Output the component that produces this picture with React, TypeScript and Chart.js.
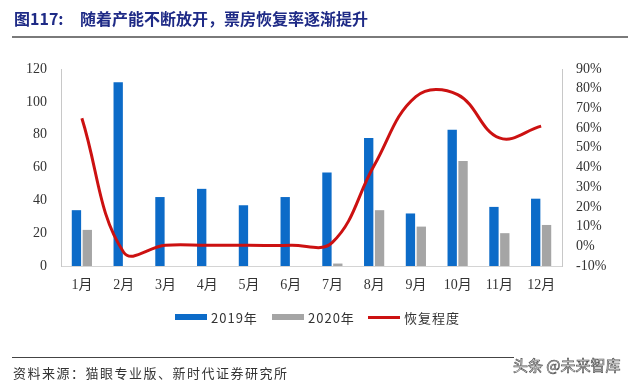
import React, { useEffect, useRef } from "react";
import { Chart, registerables } from "chart.js";

Chart.register(...registerables);

const months = ["1月", "2月", "3月", "4月", "5月", "6月", "7月", "8月", "9月", "10月", "11月", "12月"];
const boxOffice2019 = [34, 112, 42, 47, 37, 42, 57, 78, 32, 83, 36, 41];
const boxOffice2020 = [22, 0, 0, 0, 0, 0, 1.5, 34, 24, 64, 20, 25];
const recoveryPct = [65, -3, 0.5, 0.5, 0.5, 0.5, 2, 41, 76, 77, 55, 61];

const leftTicks = { min: 0, max: 120, step: 20 };
const rightTicks = { min: -10, max: 90, step: 10 };

const BLUE = "#0c6bc8";
const GRAY = "#a5a5a5";
const RED = "#cc1111";
const SERIF = "'Times New Roman','Liberation Serif','Noto Sans CJK SC',serif";

export default function App() {
  const ref = useRef<HTMLCanvasElement | null>(null);

  useEffect(() => {
    if (!ref.current) return;
    const chart = new Chart(ref.current, {
      type: "bar",
      data: {
        labels: months,
        datasets: [
          {
            type: "line",
            label: "恢复程度",
            data: recoveryPct,
            borderColor: RED,
            backgroundColor: RED,
            borderWidth: 3,
            tension: 0.4,
            pointRadius: 0,
            yAxisID: "y1",
            order: 0,
          } as any,
          {
            label: "2019年",
            data: boxOffice2019,
            backgroundColor: BLUE,
            yAxisID: "y",
            order: 1,
            categoryPercentage: 0.52,
            barPercentage: 0.86,
          },
          {
            label: "2020年",
            data: boxOffice2020,
            backgroundColor: GRAY,
            yAxisID: "y",
            order: 2,
            categoryPercentage: 0.52,
            barPercentage: 0.86,
          },
        ],
      },
      options: {
        animation: false,
        responsive: false,
        layout: { padding: { top: 69, left: 0, right: 0, bottom: 0 } },
        plugins: { legend: { display: false }, tooltip: { enabled: false } },
        scales: {
          x: {
            grid: { display: false, drawTicks: false },
            border: { display: true, color: "#d4d4d4", width: 1 },
            ticks: { font: { family: SERIF, size: 14 }, color: "#333", padding: 11, autoSkip: false, maxRotation: 0 },
            afterFit: (s: any) => { s.height = 119; },
          },
          y: {
            position: "left",
            min: leftTicks.min,
            max: leftTicks.max,
            grid: { display: false, drawTicks: false },
            border: { display: true, color: "#c8c8c8", width: 1 },
            ticks: { stepSize: leftTicks.step, autoSkip: false, font: { family: SERIF, size: 14 }, color: "#333", padding: 14 },
            afterFit: (s: any) => { s.width = 61; },
          },
          y1: {
            position: "right",
            min: rightTicks.min,
            max: rightTicks.max,
            grid: { display: false, drawTicks: false },
            border: { display: true, color: "#c8c8c8", width: 1 },
            ticks: {
              stepSize: rightTicks.step,
              autoSkip: false,
              font: { family: SERIF, size: 14 },
              color: "#333",
              padding: 14,
              callback: (v: any) => `${Math.round(Number(v))}%`,
            },
            afterFit: (s: any) => { s.width = 78; },
          },
        },
      },
    });
    return () => chart.destroy();
  }, []);

  const legendItem = (swatch: React.ReactNode, text: string, left: number) => (
    <div style={{ position: "absolute", left, top: 308, height: 18, display: "flex", alignItems: "center" }}>
      {swatch}
      <span style={{ marginLeft: 4, fontSize: 13, letterSpacing: 1, color: "#333", fontFamily: "'Noto Sans CJK SC',sans-serif" }}>{text}</span>
    </div>
  );

  return (
    <div style={{ position: "absolute", left: 0, top: 0, width: 640, height: 385, background: "#fff", overflow: "hidden" }}>
      <canvas ref={ref} width={640} height={385} style={{ position: "absolute", left: 0, top: 0, width: 640, height: 385 }} />
      <div style={{ position: "absolute", left: 14, top: 6, fontFamily: "'Noto Sans CJK SC',sans-serif", fontWeight: 700, fontSize: 16, color: "#1e2a86", whiteSpace: "nowrap" }}>
        <span>图117:</span>
        <span style={{ position: "absolute", left: 66, top: 0 }}>随着产能不断放开，票房恢复率逐渐提升</span>
      </div>
      <div style={{ position: "absolute", left: 12, top: 36, width: 616, height: 2, background: "#7a7a7a" }} />
      {legendItem(<div style={{ width: 32, height: 6, background: BLUE }} />, "2019年", 175)}
      {legendItem(<div style={{ width: 32, height: 6, background: GRAY }} />, "2020年", 272)}
      {legendItem(<div style={{ width: 32, height: 3, background: RED }} />, "恢复程度", 368)}
      <div style={{ position: "absolute", left: 12, top: 357, width: 502, height: 1, background: "#444" }} />
      <div style={{ position: "absolute", left: 13, top: 363, fontSize: 13, letterSpacing: 1.5, color: "#333", fontFamily: "'Noto Sans CJK SC',sans-serif", whiteSpace: "nowrap" }}>
        资料来源：猫眼专业版、新时代证券研究所
      </div>
      <div style={{ position: "absolute", left: 513, top: 354, fontSize: 15, color: "#fff", WebkitTextStroke: "0.7px #555", fontFamily: "'Noto Sans CJK SC',sans-serif", whiteSpace: "nowrap" } as any}>
        头条 @未来智库
      </div>
    </div>
  );
}
